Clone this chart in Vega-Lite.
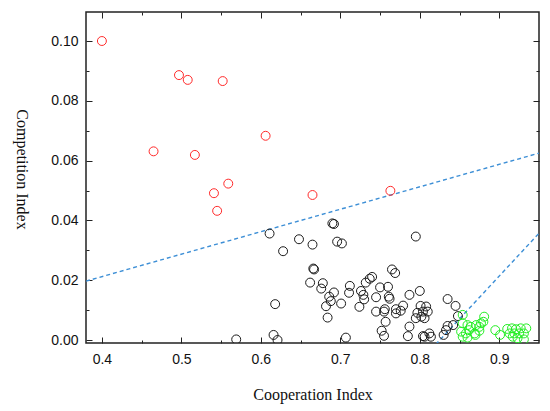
{
  "$schema": "https://vega.github.io/schema/vega-lite/v6.json",
  "width": 453,
  "height": 331,
  "autosize": "none",
  "padding": {"left": 86, "top": 12, "right": 11, "bottom": 68},
  "background": "white",
  "config": {
    "view": {"stroke": "#222", "strokeWidth": 1.5},
    "axis": {
      "domain": false,
      "grid": false,
      "tickColor": "#222",
      "tickWidth": 1,
      "labelFont": "Liberation Sans",
      "labelFontSize": 14,
      "labelColor": "#111",
      "titleFont": "Liberation Serif",
      "titleFontSize": 16,
      "titleFontWeight": "normal",
      "titleColor": "#111"
    }
  },
  "datasets": {
    "pts": [
      {"coop": 0.400, "comp": 0.1000, "grp": "red"},
      {"coop": 0.497, "comp": 0.0886, "grp": "red"},
      {"coop": 0.508, "comp": 0.0870, "grp": "red"},
      {"coop": 0.552, "comp": 0.0866, "grp": "red"},
      {"coop": 0.606, "comp": 0.0683, "grp": "red"},
      {"coop": 0.465, "comp": 0.0631, "grp": "red"},
      {"coop": 0.517, "comp": 0.0619, "grp": "red"},
      {"coop": 0.559, "comp": 0.0523, "grp": "red"},
      {"coop": 0.541, "comp": 0.0491, "grp": "red"},
      {"coop": 0.545, "comp": 0.0432, "grp": "red"},
      {"coop": 0.665, "comp": 0.0485, "grp": "red"},
      {"coop": 0.763, "comp": 0.0499, "grp": "red"},
      {"coop": 0.611, "comp": 0.0356, "grp": "black"},
      {"coop": 0.648, "comp": 0.0337, "grp": "black"},
      {"coop": 0.665, "comp": 0.0319, "grp": "black"},
      {"coop": 0.628, "comp": 0.0297, "grp": "black"},
      {"coop": 0.690, "comp": 0.0390, "grp": "black"},
      {"coop": 0.692, "comp": 0.0388, "grp": "black"},
      {"coop": 0.696, "comp": 0.0329, "grp": "black"},
      {"coop": 0.702, "comp": 0.0323, "grp": "black"},
      {"coop": 0.666, "comp": 0.0239, "grp": "black"},
      {"coop": 0.667, "comp": 0.0236, "grp": "black"},
      {"coop": 0.662, "comp": 0.0192, "grp": "black"},
      {"coop": 0.678, "comp": 0.0190, "grp": "black"},
      {"coop": 0.676, "comp": 0.0172, "grp": "black"},
      {"coop": 0.692, "comp": 0.0159, "grp": "black"},
      {"coop": 0.686, "comp": 0.0145, "grp": "black"},
      {"coop": 0.688, "comp": 0.0130, "grp": "black"},
      {"coop": 0.682, "comp": 0.0113, "grp": "black"},
      {"coop": 0.684, "comp": 0.0075, "grp": "black"},
      {"coop": 0.618, "comp": 0.0120, "grp": "black"},
      {"coop": 0.569, "comp": 0.0002, "grp": "black"},
      {"coop": 0.616, "comp": 0.0017, "grp": "black"},
      {"coop": 0.621, "comp": 0.0000, "grp": "black"},
      {"coop": 0.701, "comp": 0.0122, "grp": "black"},
      {"coop": 0.795, "comp": 0.0346, "grp": "black"},
      {"coop": 0.765, "comp": 0.0236, "grp": "black"},
      {"coop": 0.769, "comp": 0.0224, "grp": "black"},
      {"coop": 0.740, "comp": 0.0211, "grp": "black"},
      {"coop": 0.737, "comp": 0.0205, "grp": "black"},
      {"coop": 0.732, "comp": 0.0192, "grp": "black"},
      {"coop": 0.712, "comp": 0.0181, "grp": "black"},
      {"coop": 0.711, "comp": 0.0158, "grp": "black"},
      {"coop": 0.726, "comp": 0.0164, "grp": "black"},
      {"coop": 0.729, "comp": 0.0151, "grp": "black"},
      {"coop": 0.730, "comp": 0.0136, "grp": "black"},
      {"coop": 0.724, "comp": 0.0111, "grp": "black"},
      {"coop": 0.750, "comp": 0.0176, "grp": "black"},
      {"coop": 0.745, "comp": 0.0143, "grp": "black"},
      {"coop": 0.745, "comp": 0.0095, "grp": "black"},
      {"coop": 0.760, "comp": 0.0178, "grp": "black"},
      {"coop": 0.761, "comp": 0.0145, "grp": "black"},
      {"coop": 0.762, "comp": 0.0138, "grp": "black"},
      {"coop": 0.756, "comp": 0.0103, "grp": "black"},
      {"coop": 0.755, "comp": 0.0095, "grp": "black"},
      {"coop": 0.757, "comp": 0.0061, "grp": "black"},
      {"coop": 0.752, "comp": 0.0031, "grp": "black"},
      {"coop": 0.755, "comp": 0.0014, "grp": "black"},
      {"coop": 0.770, "comp": 0.0103, "grp": "black"},
      {"coop": 0.770, "comp": 0.0089, "grp": "black"},
      {"coop": 0.776, "comp": 0.0098, "grp": "black"},
      {"coop": 0.779, "comp": 0.0115, "grp": "black"},
      {"coop": 0.787, "comp": 0.0151, "grp": "black"},
      {"coop": 0.800, "comp": 0.0164, "grp": "black"},
      {"coop": 0.801, "comp": 0.0114, "grp": "black"},
      {"coop": 0.797, "comp": 0.0091, "grp": "black"},
      {"coop": 0.795, "comp": 0.0073, "grp": "black"},
      {"coop": 0.802, "comp": 0.0078, "grp": "black"},
      {"coop": 0.804, "comp": 0.0095, "grp": "black"},
      {"coop": 0.787, "comp": 0.0045, "grp": "black"},
      {"coop": 0.785, "comp": 0.0013, "grp": "black"},
      {"coop": 0.707, "comp": 0.0008, "grp": "black"},
      {"coop": 0.804, "comp": 0.0013, "grp": "black"},
      {"coop": 0.808, "comp": 0.0112, "grp": "black"},
      {"coop": 0.810, "comp": 0.0095, "grp": "black"},
      {"coop": 0.806, "comp": 0.0073, "grp": "black"},
      {"coop": 0.835, "comp": 0.0137, "grp": "black"},
      {"coop": 0.845, "comp": 0.0114, "grp": "black"},
      {"coop": 0.848, "comp": 0.0080, "grp": "black"},
      {"coop": 0.842, "comp": 0.0050, "grp": "black"},
      {"coop": 0.835, "comp": 0.0047, "grp": "black"},
      {"coop": 0.833, "comp": 0.0033, "grp": "black"},
      {"coop": 0.830, "comp": 0.0017, "grp": "black"},
      {"coop": 0.812, "comp": 0.0022, "grp": "black"},
      {"coop": 0.814, "comp": 0.0011, "grp": "black"},
      {"coop": 0.806, "comp": 0.0011, "grp": "black"},
      {"coop": 0.854, "comp": 0.0084, "grp": "green"},
      {"coop": 0.881, "comp": 0.0078, "grp": "green"},
      {"coop": 0.880, "comp": 0.0061, "grp": "green"},
      {"coop": 0.854, "comp": 0.0056, "grp": "green"},
      {"coop": 0.860, "comp": 0.0050, "grp": "green"},
      {"coop": 0.864, "comp": 0.0044, "grp": "green"},
      {"coop": 0.871, "comp": 0.0050, "grp": "green"},
      {"coop": 0.875, "comp": 0.0044, "grp": "green"},
      {"coop": 0.877, "comp": 0.0056, "grp": "green"},
      {"coop": 0.852, "comp": 0.0028, "grp": "green"},
      {"coop": 0.858, "comp": 0.0022, "grp": "green"},
      {"coop": 0.862, "comp": 0.0033, "grp": "green"},
      {"coop": 0.869, "comp": 0.0022, "grp": "green"},
      {"coop": 0.875, "comp": 0.0031, "grp": "green"},
      {"coop": 0.854, "comp": 0.0011, "grp": "green"},
      {"coop": 0.860, "comp": 0.0008, "grp": "green"},
      {"coop": 0.870, "comp": 0.0017, "grp": "green"},
      {"coop": 0.895, "comp": 0.0033, "grp": "green"},
      {"coop": 0.901, "comp": 0.0017, "grp": "green"},
      {"coop": 0.910, "comp": 0.0037, "grp": "green"},
      {"coop": 0.916, "comp": 0.0039, "grp": "green"},
      {"coop": 0.921, "comp": 0.0036, "grp": "green"},
      {"coop": 0.927, "comp": 0.0039, "grp": "green"},
      {"coop": 0.934, "comp": 0.0039, "grp": "green"},
      {"coop": 0.913, "comp": 0.0022, "grp": "green"},
      {"coop": 0.919, "comp": 0.0022, "grp": "green"},
      {"coop": 0.925, "comp": 0.0022, "grp": "green"},
      {"coop": 0.931, "comp": 0.0022, "grp": "green"},
      {"coop": 0.917, "comp": 0.0011, "grp": "green"},
      {"coop": 0.923, "comp": 0.0006, "grp": "green"},
      {"coop": 0.931, "comp": 0.0002, "grp": "green"}
    ],
    "lines": [
      {"coop": 0.38, "comp": 0.0197, "line": "upper"},
      {"coop": 0.95, "comp": 0.0625, "line": "upper"},
      {"coop": 0.82, "comp": -0.0015, "line": "lower"},
      {"coop": 0.95, "comp": 0.0357, "line": "lower"}
    ]
  },
  "layer": [
    {
      "data": {"name": "lines"},
      "mark": {"type": "line", "color": "#3d8fd6", "strokeWidth": 1.4, "strokeDash": [4, 3], "clip": true},
      "encoding": {
        "x": {
          "field": "coop", "type": "quantitative",
          "scale": {"domain": [0.38, 0.95], "nice": false, "zero": false},
          "axis": {
            "orient": "bottom",
            "title": "Cooperation Index",
            "values": [0.4, 0.45, 0.5, 0.55, 0.6, 0.65, 0.7, 0.75, 0.8, 0.85, 0.9],
            "labelExpr": "abs(datum.value*10 - round(datum.value*10)) < 0.000001 ? format(datum.value, '.1f') : ''",
            "tickSize": {"condition": {"test": "abs(datum.value*10 - round(datum.value*10)) < 0.000001", "value": -6}, "value": -3},
            "labelPadding": 15,
            "titleX": 226.5,
            "titleY": 51,
            "titleBaseline": "middle",
            "titleAlign": "center"
          }
        },
        "y": {
          "field": "comp", "type": "quantitative",
          "scale": {"domain": [-0.001, 0.1097], "nice": false, "zero": false},
          "axis": {
            "orient": "left",
            "title": "Competition Index",
            "values": [0, 0.01, 0.02, 0.03, 0.04, 0.05, 0.06, 0.07, 0.08, 0.09, 0.1],
            "labelExpr": "abs(datum.value*50 - round(datum.value*50)) < 0.000001 ? format(datum.value, '.2f') : ''",
            "tickSize": {"condition": {"test": "abs(datum.value*50 - round(datum.value*50)) < 0.000001", "value": -6}, "value": -3},
            "labelPadding": 14,
            "titleAngle": 90,
            "titleX": -65,
            "titleY": 157,
            "titleBaseline": "middle",
            "titleAlign": "center"
          }
        },
        "detail": {"field": "line"}
      }
    },
    {
      "data": {"name": "pts"},
      "mark": {"type": "point", "filled": false, "size": 80, "strokeWidth": 1, "opacity": 1, "clip": true},
      "encoding": {
        "x": {
          "field": "coop", "type": "quantitative",
          "axis": {
            "orient": "top",
            "title": null,
            "labels": false,
            "values": [0.4, 0.45, 0.5, 0.55, 0.6, 0.65, 0.7, 0.75, 0.8, 0.85, 0.9],
            "tickSize": {"condition": {"test": "abs(datum.value*10 - round(datum.value*10)) < 0.000001", "value": -6}, "value": -3}
          }
        },
        "y": {
          "field": "comp", "type": "quantitative",
          "axis": {
            "orient": "right",
            "title": null,
            "labels": false,
            "values": [0, 0.01, 0.02, 0.03, 0.04, 0.05, 0.06, 0.07, 0.08, 0.09, 0.1],
            "tickSize": {"condition": {"test": "abs(datum.value*50 - round(datum.value*50)) < 0.000001", "value": -6}, "value": -3}
          }
        },
        "color": {
          "field": "grp", "type": "nominal",
          "scale": {"domain": ["red", "black", "green"], "range": ["#ff2a2a", "#1a1a1a", "#22ee22"]},
          "legend": null
        }
      }
    }
  ],
  "resolve": {"axis": {"x": "independent", "y": "independent"}}
}
